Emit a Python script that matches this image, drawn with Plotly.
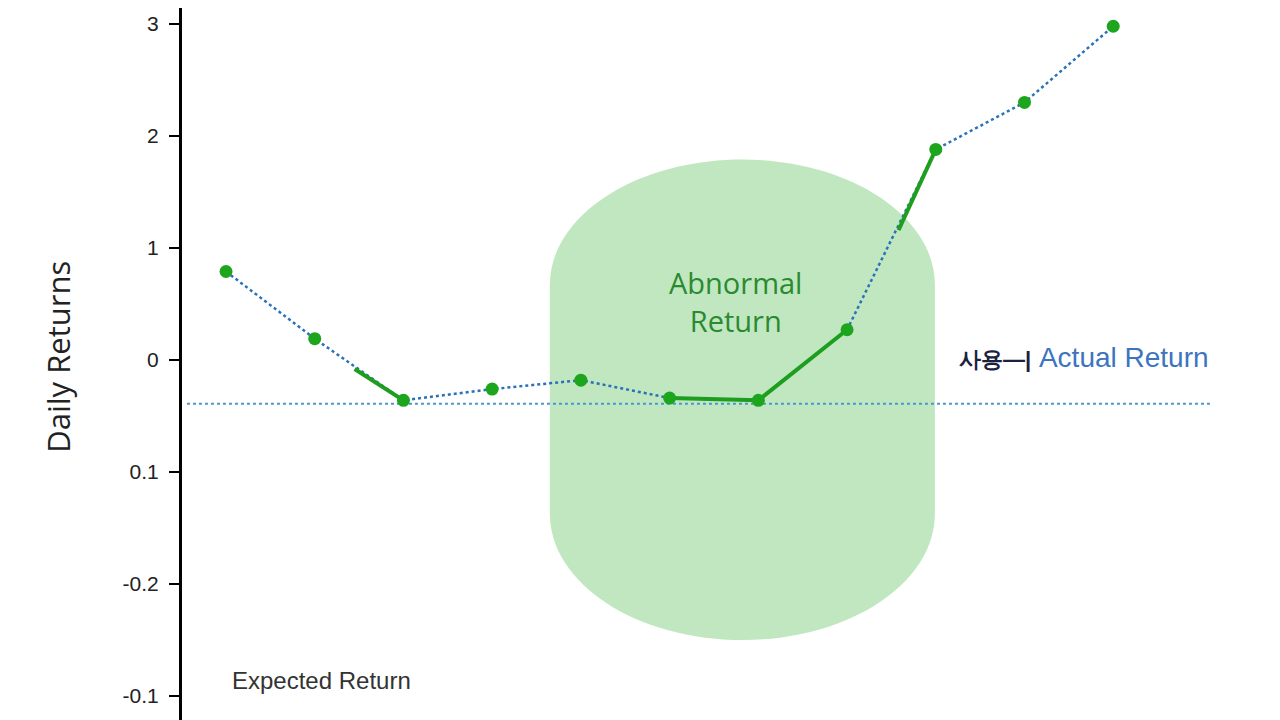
import plotly.graph_objects as go

# day index and returns (axis units, labels below are what the picture prints)
days = [0, 1, 2, 3, 4, 5, 6, 7, 8, 9, 10]
actual = [0.79, 0.19, -0.36, -0.26, -0.18, -0.34, -0.36, 0.27, 1.88, 2.30, 2.98]

# green highlighted pieces of the path (None = gap)
green_x = [1.45, 2, None, 5, 6, 7, None, 7.58, 8]
green_y = [-0.08, -0.36, None, -0.34, -0.36, 0.27, None, 1.16, 1.88]

expected_level = -0.39
expected_span = [-0.44, 11.1]

tick_vals = [3, 2, 1, 0, -1, -2, -3]
tick_text = ["3", "2", "1", "0", "0.1", "-0.2", "-0.1"]

# abnormal return region: left, right, bottom, top, straight sides between s0 and s1
region = dict(x0=3.65, x1=7.99, y0=-2.50, y1=1.79, s1=0.67, s0=-1.37)

fig = go.Figure()

# elliptic top and bottom caps, vertical sides
r = region
k = 0.5523
xc = (r["x0"] + r["x1"]) / 2
hw = (r["x1"] - r["x0"]) / 2
ht = r["y1"] - r["s1"]
hb = r["s0"] - r["y0"]
path = (
    f"M {r['x0']},{r['s1']} "
    f"C {r['x0']},{r['s1'] + k * ht} {xc - k * hw},{r['y1']} {xc},{r['y1']} "
    f"C {xc + k * hw},{r['y1']} {r['x1']},{r['s1'] + k * ht} {r['x1']},{r['s1']} "
    f"L {r['x1']},{r['s0']} "
    f"C {r['x1']},{r['s0'] - k * hb} {xc + k * hw},{r['y0']} {xc},{r['y0']} "
    f"C {xc - k * hw},{r['y0']} {r['x0']},{r['s0'] - k * hb} {r['x0']},{r['s0']} Z"
)
fig.add_shape(type="path", path=path, xref="x", yref="y",
              fillcolor="rgba(150,215,150,0.6)", line=dict(width=0), layer="below")

fig.add_trace(go.Scatter(x=expected_span, y=[expected_level, expected_level],
                         mode="lines", line=dict(color="#4a98d0", width=2, dash="dot"),
                         showlegend=False))
fig.add_trace(go.Scatter(x=days, y=actual, mode="lines",
                         line=dict(color="#2a72b8", width=2.5, dash="dot"),
                         showlegend=False))
fig.add_trace(go.Scatter(x=green_x, y=green_y, mode="lines",
                         line=dict(color="#1e9e1e", width=4),
                         showlegend=False))
fig.add_trace(go.Scatter(x=days, y=actual, mode="markers",
                         marker=dict(color="#1ea51e", size=13),
                         showlegend=False))

fig.add_annotation(x=xc - 0.08, y=0.52, text="Abnormal<br>Return", showarrow=False,
                   font=dict(size=29, color="#2a8a30", family="Open Sans"))
fig.add_annotation(x=0.04, y=-2.86, text="Expected Return", showarrow=False,
                   xanchor="left", font=dict(size=24, color="#333333", family="Liberation Sans"))
fig.add_annotation(x=11.1, y=0.02, xanchor="right", showarrow=False,
                   text="<span style='color:#1a2240;font-size:22px'><b>사용—|</b></span> Actual Return",
                   font=dict(size=28, color="#3d74c0", family="Liberation Sans"))
# axis title, placed by hand (paper x, since it sits left of the plot area)
fig.add_annotation(xref="paper", x=-0.112, xanchor="center", y=0.03, text="Daily Returns",
                   textangle=-90, showarrow=False,
                   font=dict(size=31, color="#222222", family="Open Sans"))

# page body has an 8px margin, so the plot area is set 8px up/left to land on the reference
fig.update_xaxes(range=[-0.496, 11.97], visible=False)
fig.update_yaxes(range=[-3.286, 3.143], tickvals=tick_vals, ticktext=tick_text,
                 showline=True, linecolor="black", linewidth=3,
                 ticks="outside", ticklen=10, tickwidth=2, tickcolor="black",
                 ticklabelstandoff=6,
                 showgrid=False, zeroline=False,
                 tickfont=dict(size=21, color="#222222", family="Liberation Sans"))

fig.update_layout(width=1280, height=720, plot_bgcolor="white", paper_bgcolor="white",
                  margin=dict(l=174, r=0, t=0, b=0))

fig.write_html("out.html")
